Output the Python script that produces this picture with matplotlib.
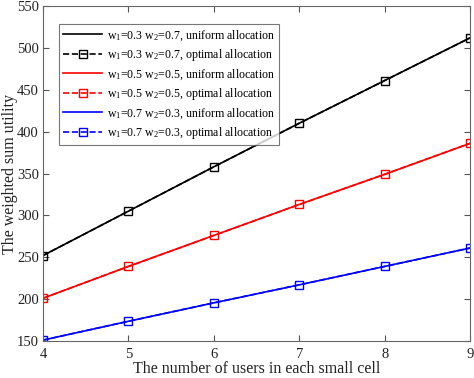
import matplotlib
matplotlib.use("Agg")
import matplotlib.pyplot as plt

plt.rcParams['font.family'] = ['Liberation Serif', 'DejaVu Serif']
plt.rcParams['mathtext.fontset'] = 'custom'
plt.rcParams['mathtext.rm'] = 'Liberation Serif'
plt.rcParams['mathtext.it'] = 'Liberation Serif:italic'

users = [4, 5, 6, 7, 8, 9]
w37_uniform = [252, 305, 358, 410, 461, 512]
w37_optimal = [252, 305, 358, 410, 461, 512]
w55_uniform = [201, 239, 276, 313, 349, 386]
w55_optimal = [201, 239, 276, 313, 349, 386]
w73_uniform = [151, 173.5, 195.5, 217, 239, 261]
w73_optimal = [151, 173.5, 195.5, 217, 239, 261]

labels = [r'w$_1$=0.3 w$_2$=0.7, uniform allocation',
          r'w$_1$=0.3 w$_2$=0.7, optimal allocation',
          r'w$_1$=0.5 w$_2$=0.5, uniform allocation',
          r'w$_1$=0.5 w$_2$=0.5, optimal allocation',
          r'w$_1$=0.7 w$_2$=0.3, uniform allocation',
          r'w$_1$=0.7 w$_2$=0.3, optimal allocation']

fig = plt.figure(figsize=(4.74, 3.78), dpi=100)
ax = fig.add_axes([0.0907, 0.098, 0.901, 0.886])

series = [(w37_uniform, w37_optimal, 'black'),
          (w55_uniform, w55_optimal, 'red'),
          (w73_uniform, w73_optimal, 'blue')]
i = 0
for uni, opt, c in series:
    ax.plot(users, uni, '-', color=c, lw=1.2, label=labels[i])
    ax.plot(users, opt, '--', color=c, lw=1.2, marker='s', markersize=5.5,
            markerfacecolor='none', markeredgewidth=1.0, label=labels[i + 1])
    i += 2

ax.set_xlim(4, 9)
ax.set_ylim(150, 550)
ax.set_xticks(users)
ax.set_yticks(range(150, 551, 50))
ax.tick_params(direction='in', top=True, right=True, labelsize=10.5, length=4,
               color='#555555', labelcolor='#222222')
ax.tick_params(axis='x', pad=5)
ax.tick_params(axis='y', pad=3)
for s in ax.spines.values():
    s.set_color('#666666')
    s.set_linewidth(0.8)
ax.set_xlabel('The number of users in each small cell', fontsize=11.5,
              labelpad=0, color='#222222')
ax.set_ylabel('The weighted sum utility', fontsize=11.5, color='#222222')
ax.yaxis.set_label_coords(-0.058, 0.5)

leg = ax.legend(loc='upper left', bbox_to_anchor=(0.037, 0.947), fontsize=8.6,
                frameon=True, fancybox=False, edgecolor='#555555',
                handlelength=3.3, handletextpad=0.35, borderpad=0.35,
                labelspacing=0.36, borderaxespad=0)
leg.get_frame().set_linewidth(0.8)

fig.savefig('out.png', dpi=100)
